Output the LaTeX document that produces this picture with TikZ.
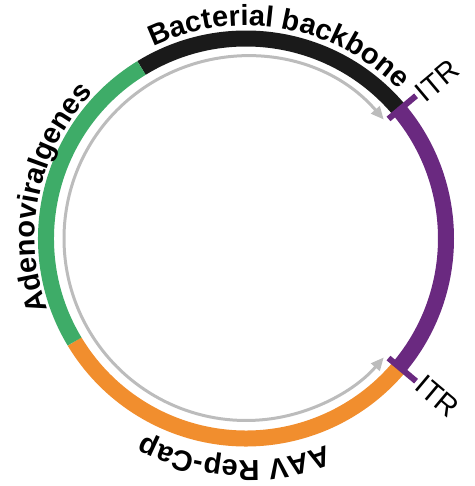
\documentclass[tikz,border=0pt]{standalone}
\usepackage{fontspec}
\setmainfont{Liberation Sans}
\usetikzlibrary{decorations.text,arrows.meta}
\definecolor{adgreen}{RGB}{62,172,104}
\definecolor{itrpurple}{RGB}{106,41,128}
\definecolor{repcaporange}{RGB}{241,142,46}
\definecolor{arrowgrey}{RGB}{188,188,188}
\definecolor{backboneblack}{RGB}{26,26,26}

\begin{document}
\begin{tikzpicture}
			\useasboundingbox (-246pt,-247.5pt) rectangle (228pt,238.5pt);
			\draw[line width=16pt, backboneblack] (121.5:200pt) arc[start angle=121.5, end angle=40, radius=200pt];
			\draw[line width=16pt, itrpurple] (40:200pt) arc[start angle=40, end angle=-40, radius=200pt];
			\draw[line width=16pt, repcaporange] (-40:200pt) arc[start angle=-40, end angle=-149, radius=200pt];
			\draw[line width=16pt, adgreen] (211:200pt) arc[start angle=211, end angle=121.5, radius=200pt];
			\draw[line width=6pt, itrpurple] (40:186pt) -- (40:222pt);
			\draw[line width=6pt, itrpurple] (-40:186pt) -- (-40:222pt);
			\draw[arrowgrey, line width=3pt, {Triangle[length=13pt,width=11pt]}-{Triangle[length=13pt,width=11pt]}] (40.8:182pt) arc[start angle=40.8, end angle=319.2, radius=182pt];
			\path[decorate, decoration={text along path, text align=center, text={|\fontsize{29}{31}\selectfont\bfseries|Bacterial backbone}}] (130:213pt) arc[start angle=130, end angle=30, radius=213pt];
			\path[decorate, decoration={text along path, text align=center, text={|\fontsize{29}{31}\selectfont\bfseries|Adenoviralgenes}}] (218:211pt) arc[start angle=218, end angle=118, radius=211pt];
			\path[decorate, decoration={text along path, text align=center, text={|\fontsize{29}{31}\selectfont\bfseries|AAV Rep-Cap}}] (-48:222pt) arc[start angle=-48, end angle=-138, radius=222pt];
			\node[rotate=40] (itrtop) at (39.5:248pt) {\fontsize{29}{31}\selectfont ITR};
			\node[rotate=-40] (itrbot) at (-39.5:248pt) {\fontsize{29}{31}\selectfont ITR};
			\end{tikzpicture}
\end{document}
